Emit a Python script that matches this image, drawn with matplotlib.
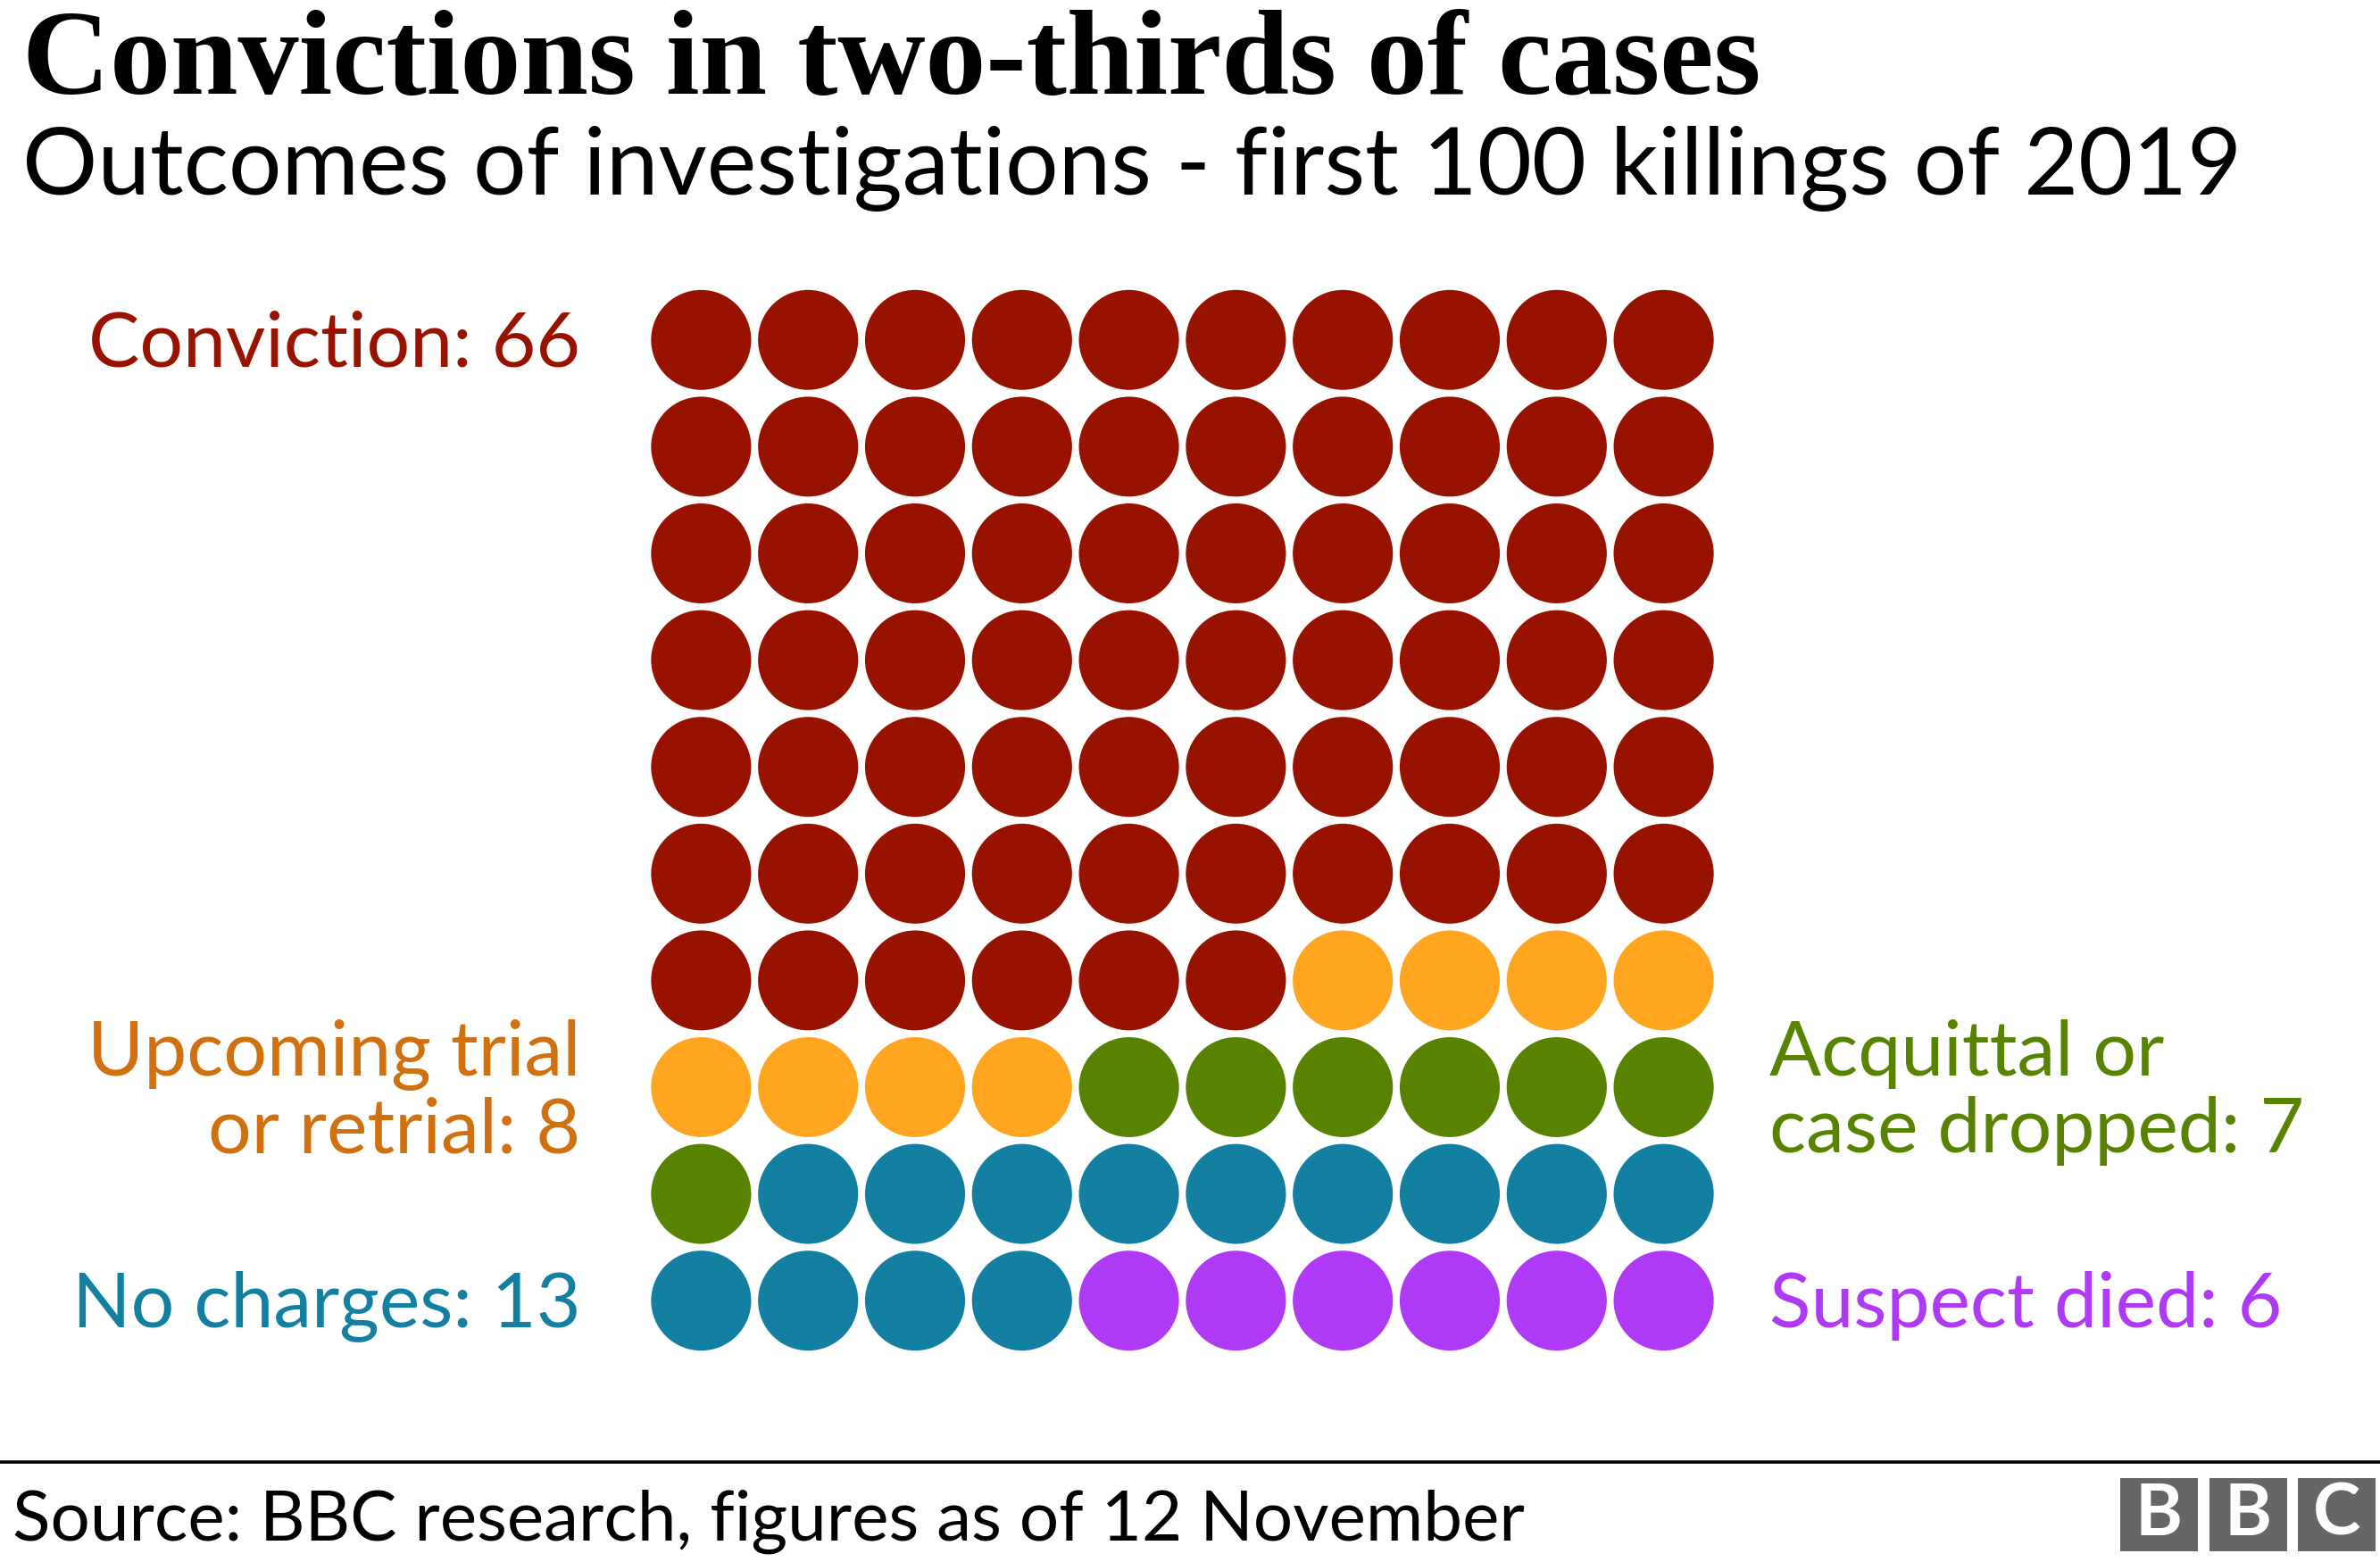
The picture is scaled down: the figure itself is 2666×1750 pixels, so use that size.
import matplotlib
matplotlib.use("Agg")
import matplotlib.pyplot as plt
from matplotlib.patches import Circle, Rectangle

# Data
categories = ["Conviction", "Upcoming trial or retrial", "Acquittal or case dropped",
              "No charges", "Suspect died"]
counts = [66, 8, 7, 13, 6]
colors = ["#981200", "#FFA520", "#588300", "#1380A1", "#AE3AF6"]
label_colors = ["#981200", "#D1700E", "#588300", "#1380A1", "#AE3AF6"]
label_texts = ["Conviction: 66", "Upcoming trial\nor retrial: 8", "Acquittal or\ncase dropped: 7",
               "No charges: 13", "Suspect died: 6"]
label_rows = [0, 7, 7, 9, 9]
label_side = ["left", "left", "right", "left", "right"]

title = "Convictions in two-thirds of cases"
subtitle = "Outcomes of investigations - first 100 killings of 2019"
source = "Source: BBC research, figures as of 12 November"

W, H = 2666, 1750
ncols = 10
nrows = 10

fig = plt.figure(figsize=(W / 100, H / 100), dpi=100)
fig.patch.set_facecolor("white")

# waffle axes, pixel box of the 10x10 grid
left, right, top, bottom = 725.5, 1923.5, 321, 1517
ax = fig.add_axes([left / W, 1 - bottom / H, (right - left) / W, (bottom - top) / H])
ax.set_xlim(-0.5, ncols - 0.5)
ax.set_ylim(nrows - 0.5, -0.5)
ax.axis("off")

i = 0
for n, c in zip(counts, colors):
    for _ in range(n):
        row, col = divmod(i, ncols)
        ax.add_patch(Circle((col, row), 0.468, color=c, lw=0))
        i += 1

sans = "Lato"
for txt, r, side, c in zip(label_texts, label_rows, label_side, label_colors):
    if side == "left":
        ax.text(-1.13, r + 0.05, txt, ha="right", va="center", color=c, fontsize=61.8,
                family=sans, linespacing=1.12)
    else:
        ax.text(9.99, r + 0.05, txt, ha="left", va="center", color=c, fontsize=61.8,
                family=sans, linespacing=1.12)

# titles
fig.text(25 / W, 1 - 105 / H, title, fontsize=97.8, fontweight="bold",
         family="Liberation Serif", va="baseline", ha="left")
fig.text(25 / W, 1 - 218 / H, subtitle, fontsize=75.8, family=sans,
         va="baseline", ha="left")

# footer
fig.add_artist(plt.Line2D([0, 1], [1 - 1638 / H, 1 - 1638 / H], color="black", lw=2.6))
fig.text(14 / W, 1 - 1726 / H, source, fontsize=56.3, family=sans,
         va="baseline", ha="left")

# BBC blocks
for k, letter in enumerate("BBC"):
    x0 = 2375 + k * 99.5
    fig.add_artist(Rectangle((x0 / W, 1 - 1738 / H), 87 / W, 82 / H,
                             transform=fig.transFigure, color="#666666", lw=0))
    fig.text((x0 + 43.5) / W, 1 - 1697 / H, letter, fontsize=58, fontweight="bold",
             family=sans, color="white", ha="center", va="center")

fig.savefig("out.png", dpi=100)
